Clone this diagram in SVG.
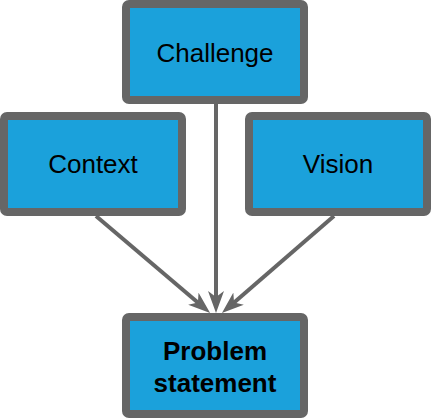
<svg xmlns="http://www.w3.org/2000/svg" width="431" height="420" viewBox="0 0 431 420">
<style>
.box{fill:#1ba1db;stroke:#666666;stroke-width:8}
.lbl{font-family:"Liberation Sans",Arial,sans-serif;font-size:26px;fill:#000;text-anchor:middle}
.bold{font-weight:bold}
.conn{stroke:#666666;stroke-width:4;fill:none}
</style>
<defs>
<marker id="arr" viewBox="0 0 22 16" refX="12" refY="8" markerWidth="22" markerHeight="16" markerUnits="userSpaceOnUse" orient="auto">
<path d="M0,0 L22,8 L0,16 L6,8 Z" fill="#666666"/>
</marker>
</defs>
<g id="connectors">
<line class="conn" x1="216" y1="104" x2="216" y2="303" marker-end="url(#arr)"/>
<line class="conn" x1="96" y1="216" x2="202.5" y2="306.5" marker-end="url(#arr)"/>
<line class="conn" x1="334" y1="216" x2="229.5" y2="306.5" marker-end="url(#arr)"/>
</g>
<g id="challenge">
<rect class="box" x="126" y="4" width="178" height="96" rx="3"/>
<text class="lbl" x="215" y="62">Challenge</text>
</g>
<g id="context">
<rect class="box" x="4" y="116" width="178" height="96" rx="3"/>
<text class="lbl" x="93" y="173">Context</text>
</g>
<g id="vision">
<rect class="box" x="249" y="116" width="178" height="96" rx="3"/>
<text class="lbl" x="338" y="173">Vision</text>
</g>
<g id="problem">
<rect class="box" x="126" y="317" width="178" height="97" rx="3"/>
<text class="lbl bold" x="215" y="360">Problem</text>
<text class="lbl bold" x="215" y="392">statement</text>
</g>
</svg>
